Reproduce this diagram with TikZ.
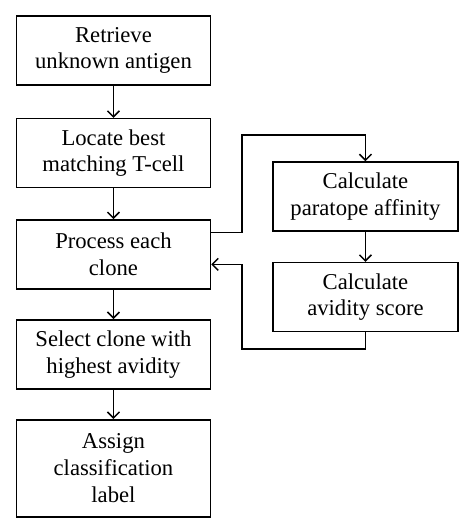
\documentclass[tikz,border=0pt]{standalone}
\usepackage{fontspec}
\setmainfont{Liberation Serif}
\usetikzlibrary{arrows.meta, positioning, calc}

\begin{document}
\begin{tikzpicture}[
  box/.style={draw, rectangle, line width=1.2pt, minimum width=145.5pt, minimum height=51.75pt,
    align=center, font=\fontsize{17}{20}\selectfont},
  sidebox/.style={box, minimum width=138.75pt},
  arr/.style={-{Straight Barb[length=4.5pt, width=9pt]}, line width=1.1pt}
]
\useasboundingbox (0,0) rectangle (355.5pt,-395.25pt);
% main column
\node[box] (retrieve) at (85.1pt,-37.9pt) {Retrieve\\unknown antigen};
\node[box, below=24pt of retrieve] (locate) {Locate best\\matching T-cell};
\node[box, below=23pt of locate] (proc) {Process each\\clone};
\node[box, below=22pt of proc] (select) {Select clone with\\highest avidity};
\node[box, below=22pt of select, minimum height=72.75pt] (assign) {Assign\\classification\\label};
% side loop
\node[sidebox] (paratope) at (274.1pt,-147.4pt) {Calculate\\paratope affinity};
\node[sidebox, below=22.5pt of paratope] (avidity) {Calculate\\avidity score};
\coordinate (loopT) at (181.5pt,-101.25pt);
\coordinate (loopB) at (181.5pt,-261.75pt);

\draw[arr] (retrieve) -- (locate);
\draw[arr] (locate) -- (proc);
\draw[arr] (proc) -- (select);
\draw[arr] (select) -- (assign);
\draw[arr] (paratope) -- (avidity);
\draw[arr] ([yshift=16.5pt]proc.east) -| (loopT) -| (paratope.north);
\draw[arr] (avidity.south) |- (loopB) |- ([yshift=-7.5pt]proc.east);
\end{tikzpicture}
\end{document}
